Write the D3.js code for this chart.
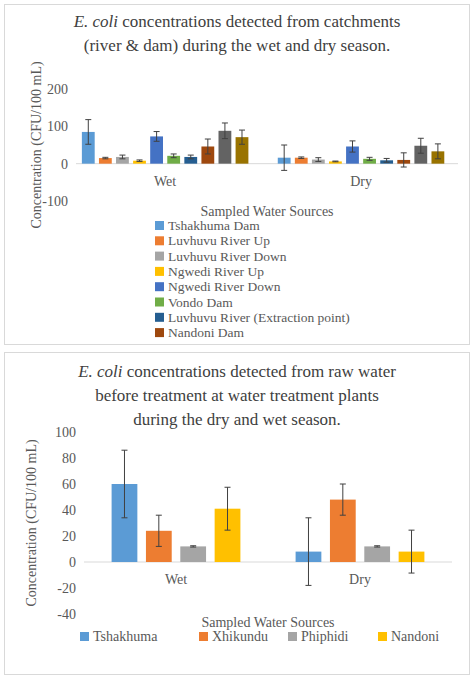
<!DOCTYPE html>
<html><head><meta charset="utf-8">
<script src="https://cdn.jsdelivr.net/npm/d3@7"></script>
<style>body{margin:0;background:#fff}svg{font-family:"Liberation Serif",serif}</style>
</head><body><svg width="474" height="681"></svg>
<script>
const seasons = ["Wet", "Dry"];
// top chart: catchments
const topSeries = ["Tshakhuma Dam", "Luvhuvu River Up", "Luvhuvu River Down", "Ngwedi River Up", "Ngwedi River Down", "Vondo Dam", "Luvhuvu River (Extraction point)", "Nandoni Dam", "Series 9", "Series 10"];
const topColors = ["#5B9BD5", "#ED7D31", "#A5A5A5", "#FFC000", "#4472C4", "#70AD47", "#255E91", "#9E480E", "#636363", "#997300"];
const topWet = [85, 15, 18, 8, 73, 21, 18, 46, 88, 71];
const topDry = [16, 16, 11, 6, 46, 13, 9, 10, 48, 33];
const topWetErr = [33, 2, 5, 2, 13, 5, 5, 20, 21, 19];
const topDryErr = [34, 2, 5, 1, 15, 4, 5, 19, 20, 20];
const topTicks = [-100, 0, 100, 200];
// bottom chart: treatment plants
const botSeries = ["Tshakhuma", "Xhikundu", "Phiphidi", "Nandoni"];
const botColors = ["#5B9BD5", "#ED7D31", "#A5A5A5", "#FFC000"];
const botWet = [60, 24, 12, 41];
const botDry = [8, 48, 12, 8];
const botWetErr = [26, 12, 0.5, 16.5];
const botDryErr = [26, 12, 0.5, 16.5];
const botTicks = [-40, -20, 0, 20, 40, 60, 80, 100];

const svg = d3.select("svg");

// panel boxes
svg.append("rect").attr("x", 4.5).attr("y", 4.5).attr("width", 465).attr("height", 340)
  .attr("fill", "none").attr("stroke", "#d9d9d9");
svg.append("rect").attr("x", 4.5).attr("y", 352.5).attr("width", 465).attr("height", 322)
  .attr("fill", "none").attr("stroke", "#d9d9d9");

function drawChart(o) {
  const g = svg.append("g");
  const y = d3.scaleLinear().domain(o.domain).range(o.yRange);
  const x0 = d3.scaleBand().domain(seasons).range(o.xRange).paddingInner(o.padIn).paddingOuter(o.padOut).align(o.align);
  const x1 = d3.scaleBand().domain(o.series).range([0, x0.bandwidth()]).paddingInner(0.25);

  // title
  o.title.forEach((t, i) => {
    const tx = g.append("text").attr("x", 237).attr("y", o.titleY + i * 24).attr("text-anchor", "middle")
      .attr("font-size", 17).attr("fill", "#404040");
    if (Array.isArray(t)) {
      tx.append("tspan").attr("font-style", "italic").text(t[0]);
      tx.append("tspan").text(t[1]);
    } else tx.text(t);
  });

  // y tick labels
  g.selectAll(".yt").data(o.ticks).join("text")
    .attr("x", o.xRange[0] - 8).attr("y", d => y(d) + 5).attr("text-anchor", "end")
    .attr("font-size", 14).attr("fill", "#595959").text(d => d);

  // zero line
  g.append("line").attr("x1", o.xRange[0]).attr("x2", o.xRange[1])
    .attr("y1", y(0)).attr("y2", y(0)).attr("stroke", "#d9d9d9");

  const rows = [];
  seasons.forEach((s, si) => {
    o.series.forEach((n, i) => {
      const v = si === 0 ? o.wet[i] : o.dry[i];
      const e = si === 0 ? o.wetErr[i] : o.dryErr[i];
      rows.push({ s, n, i, v, e });
    });
  });
  g.selectAll(".bar").data(rows).join("rect")
    .attr("x", d => x0(d.s) + x1(d.n)).attr("width", x1.bandwidth())
    .attr("y", d => y(d.v)).attr("height", d => y(0) - y(d.v))
    .attr("fill", d => o.colors[d.i]);
  const eb = g.selectAll(".err").data(rows).join("g").attr("stroke", "#404040").attr("stroke-width", 1);
  const cx = d => x0(d.s) + x1(d.n) + x1.bandwidth() / 2;
  eb.append("line").attr("x1", cx).attr("x2", cx).attr("y1", d => y(d.v + d.e)).attr("y2", d => y(d.v - d.e));
  eb.append("line").attr("x1", d => cx(d) - 3).attr("x2", d => cx(d) + 3).attr("y1", d => y(d.v + d.e)).attr("y2", d => y(d.v + d.e));
  eb.append("line").attr("x1", d => cx(d) - 3).attr("x2", d => cx(d) + 3).attr("y1", d => y(d.v - d.e)).attr("y2", d => y(d.v - d.e));

  // category labels
  g.selectAll(".xl").data(seasons).join("text")
    .attr("x", d => x0(d) + x0.bandwidth() / 2).attr("y", y(0) + o.catDy).attr("text-anchor", "middle")
    .attr("font-size", 14).attr("fill", "#595959").text(d => d);

  // axis titles
  g.append("text").attr("transform", `translate(${o.yTitleX},${(o.yRange[0] + o.yRange[1]) / 2}) rotate(-90)`)
    .attr("text-anchor", "middle").attr("font-size", 14).attr("fill", "#595959").text("Concentration (CFU/100 mL)");
  g.append("text").attr("x", (o.xRange[0] + o.xRange[1]) / 2).attr("y", o.xTitleY).attr("text-anchor", "middle")
    .attr("font-size", 14).attr("fill", "#595959").text("Sampled Water Sources");
  return g;
}

drawChart({
  series: topSeries, colors: topColors, wet: topWet, dry: topDry, wetErr: topWetErr, dryErr: topDryErr,
  ticks: topTicks, domain: [-100, 200], yRange: [201, 89], xRange: [76, 458], padIn: 0.15, padOut: 0.05, align: 0.3,
  title: [["E. coli", " concentrations detected from catchments"], "(river & dam) during the wet and dry season."],
  titleY: 27, catDy: 22, yTitleX: 41, xTitleY: 216
});
// top legend (only first 8 entries visible)
const tl = svg.append("g").selectAll("g").data(topSeries.slice(0, 8)).join("g")
  .attr("transform", (d, i) => `translate(155,${230 + i * 15.3})`);
tl.append("rect").attr("x", 0).attr("y", -9).attr("width", 9).attr("height", 9).attr("fill", (d, i) => topColors[i]);
tl.append("text").attr("x", 13).attr("y", 0).attr("font-size", 13.5).attr("fill", "#595959").text(d => d);

drawChart({
  series: botSeries, colors: botColors, wet: botWet, dry: botDry, wetErr: botWetErr, dryErr: botDryErr,
  ticks: botTicks, domain: [-40, 100], yRange: [614, 432], xRange: [84, 452], padIn: 0.3, padOut: 0.15, align: 0.5,
  title: [["E. coli", " concentrations detected from raw water"], "before treatment at water treatment plants", "during the dry and wet season."],
  titleY: 377, catDy: 22, yTitleX: 36, xTitleY: 627
});
const bl = svg.append("g").selectAll("g").data(botSeries).join("g")
  .attr("transform", (d, i) => `translate(${[80, 199, 288, 378][i]},641)`);
bl.append("rect").attr("x", 0).attr("y", -9).attr("width", 9).attr("height", 9).attr("fill", (d, i) => botColors[i]);
bl.append("text").attr("x", 13).attr("y", 0).attr("font-size", 14).attr("fill", "#595959").text(d => d);
</script></body></html>
